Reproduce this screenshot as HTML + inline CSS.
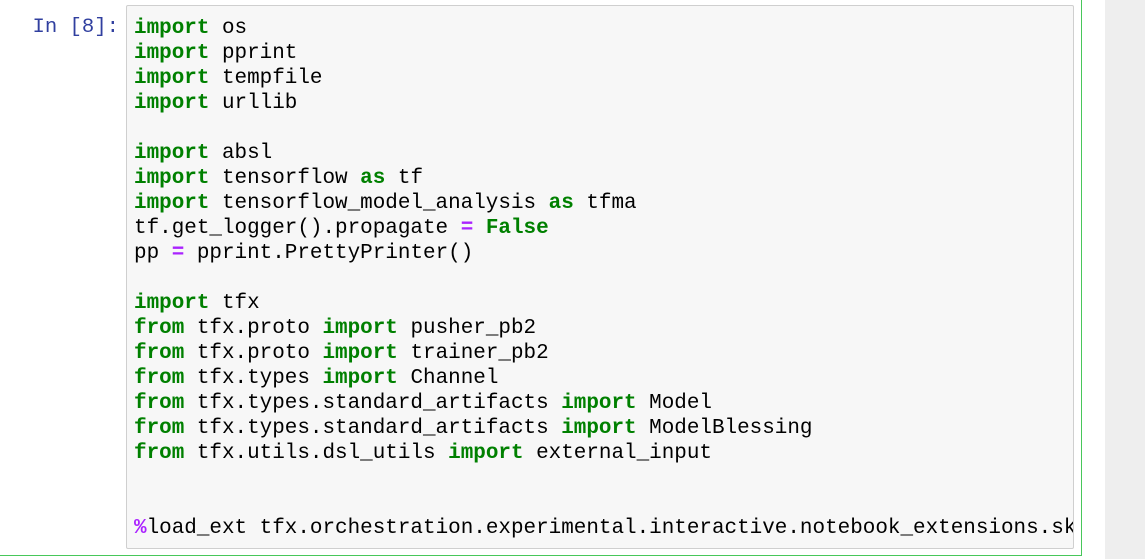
<!DOCTYPE html>
<html><head><style>
html,body{margin:0;padding:0;width:1145px;height:559px;overflow:hidden;background:#fff;}
.gray{position:absolute;left:1105px;top:0;width:40px;height:559px;background:#eeeeee;}
.vr{position:absolute;left:1081px;top:0;width:1px;height:556px;background:#47c75a;}
.hr{position:absolute;left:0;top:555px;width:1082px;height:1px;background:#47c75a;}
.prompt{position:absolute;left:0;top:15px;width:119px;text-align:right;font:20.6px/25px "Liberation Mono",monospace;color:#303F9F;white-space:pre;}
.inp{position:absolute;left:126px;top:5px;width:946px;height:542px;background:#f7f7f7;border:1px solid #cfcfcf;border-radius:2px;overflow:hidden;}
pre{margin:0;position:absolute;left:7px;top:10px;font:20.95px/25px "Liberation Mono",monospace;color:#000;}
.k{color:#008000;font-weight:bold;}
.o{color:#AA22FF;font-weight:bold;}
</style></head><body>
<div class="gray"></div>
<div class="vr"></div>
<div class="hr"></div>
<div class="prompt">In [8]:</div>
<div class="inp"><pre><span class="k">import</span> os
<span class="k">import</span> pprint
<span class="k">import</span> tempfile
<span class="k">import</span> urllib

<span class="k">import</span> absl
<span class="k">import</span> tensorflow <span class="k">as</span> tf
<span class="k">import</span> tensorflow_model_analysis <span class="k">as</span> tfma
tf.get_logger().propagate <span class="o">=</span> <span class="k">False</span>
pp <span class="o">=</span> pprint.PrettyPrinter()

<span class="k">import</span> tfx
<span class="k">from</span> tfx.proto <span class="k">import</span> pusher_pb2
<span class="k">from</span> tfx.proto <span class="k">import</span> trainer_pb2
<span class="k">from</span> tfx.types <span class="k">import</span> Channel
<span class="k">from</span> tfx.types.standard_artifacts <span class="k">import</span> Model
<span class="k">from</span> tfx.types.standard_artifacts <span class="k">import</span> ModelBlessing
<span class="k">from</span> tfx.utils.dsl_utils <span class="k">import</span> external_input


<span class="o">%</span>load_ext tfx.orchestration.experimental.interactive.notebook_extensions.skaffold</pre></div>
</body></html>
